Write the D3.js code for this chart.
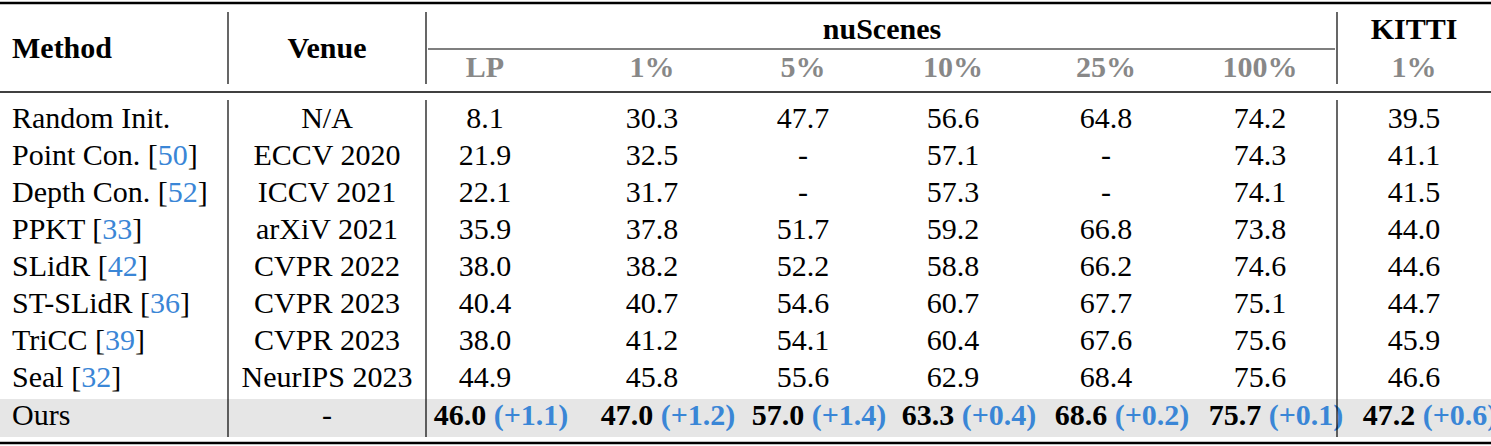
<!DOCTYPE html>
<html><head><meta charset="utf-8">
<script src="https://cdn.jsdelivr.net/npm/d3@7"></script>
<style>body{margin:0;background:#fff}</style></head>
<body><svg id="t" width="1491" height="446"></svg>
<script>
const methods = ["Random Init.","Point Con. [50]","Depth Con. [52]","PPKT [33]","SLidR [42]","ST-SLidR [36]","TriCC [39]","Seal [32]","Ours"];
const venues = ["N/A","ECCV 2020","ICCV 2021","arXiV 2021","CVPR 2022","CVPR 2023","CVPR 2023","NeurIPS 2023","-"];
const columns = ["LP","1%","5%","10%","25%","100%","1%"];
const values = [
  ["8.1","30.3","47.7","56.6","64.8","74.2","39.5"],
  ["21.9","32.5","-","57.1","-","74.3","41.1"],
  ["22.1","31.7","-","57.3","-","74.1","41.5"],
  ["35.9","37.8","51.7","59.2","66.8","73.8","44.0"],
  ["38.0","38.2","52.2","58.8","66.2","74.6","44.6"],
  ["40.4","40.7","54.6","60.7","67.7","75.1","44.7"],
  ["38.0","41.2","54.1","60.4","67.6","75.6","45.9"],
  ["44.9","45.8","55.6","62.9","68.4","75.6","46.6"],
  ["46.0","47.0","57.0","63.3","68.6","75.7","47.2"]
];
const gains = ["+1.1","+1.2","+1.4","+0.4","+0.2","+0.1","+0.6"];

const svg = d3.select("#t");
const font = "'Liberation Serif','Times New Roman',serif";
const colX = [485,652,803,953,1106,1260,1414];
const y = d3.scaleLinear().domain([0,8]).range([117,414]);
const g = svg.append("g").attr("font-family",font).attr("font-size",30);

// highlight band
svg.insert("rect","g").attr("x",0).attr("width",1491).attr("y",y(8)-15).attr("height",38).attr("fill","#e6e6e6");

// rules
const line = (x1,y1,x2,y2,w)=>svg.append("line").attr("x1",x1).attr("y1",y1).attr("x2",x2).attr("y2",y2).attr("stroke","#000").attr("stroke-width",w);
line(0,3,1491,3,2.5);
line(0,92,1491,92,1.3);
line(0,443,1491,443,2.5);
line(428,49,1335,49,1.2);
[228,426,1337].forEach(x=>{line(x,12,x,84,1.2);line(x,100,x,437,1.2);});

// header
g.append("text").attr("x",12).attr("y",47).attr("dy","0.35em").attr("font-weight","bold").text("Method");
g.append("text").attr("x",327).attr("y",47).attr("dy","0.35em").attr("text-anchor","middle").attr("font-weight","bold").text("Venue");
g.append("text").attr("x",882).attr("y",28).attr("dy","0.35em").attr("text-anchor","middle").attr("font-weight","bold").text("nuScenes");
g.append("text").attr("x",1414).attr("y",28).attr("dy","0.35em").attr("text-anchor","middle").attr("font-weight","bold").text("KITTI");
g.selectAll(".sub").data(columns).join("text").attr("x",(d,i)=>colX[i]).attr("y",66).attr("dy","0.35em")
  .attr("text-anchor","middle").attr("font-weight","bold").attr("fill","#888").text(d=>d);

// body
const blue = "#3a86d6";
methods.forEach((m,r)=>{
  const row = g.append("g");
  const mt = row.append("text").attr("x",12).attr("y",y(r)).attr("dy","0.35em");
  const mm = m.match(/^(.*\[)(\d+)(\])$/);
  if(mm){mt.append("tspan").text(mm[1]);mt.append("tspan").attr("fill",blue).text(mm[2]);mt.append("tspan").text(mm[3]);}
  else mt.text(m);
  row.append("text").attr("x",327).attr("y",y(r)).attr("dy","0.35em").attr("text-anchor","middle").text(venues[r]);
  values[r].forEach((v,c)=>{
    const t = row.append("text").attr("x",colX[c]).attr("y",y(r)).attr("dy","0.35em").attr("text-anchor","middle");
    if(r===methods.length-1){
      t.attr("x",colX[c]+16);
      t.append("tspan").attr("font-weight","bold").text(v+" ");
      t.append("tspan").attr("font-weight","bold").attr("fill",blue).text("("+gains[c]+")");
    } else t.text(v);
  });
});
</script></body></html>
